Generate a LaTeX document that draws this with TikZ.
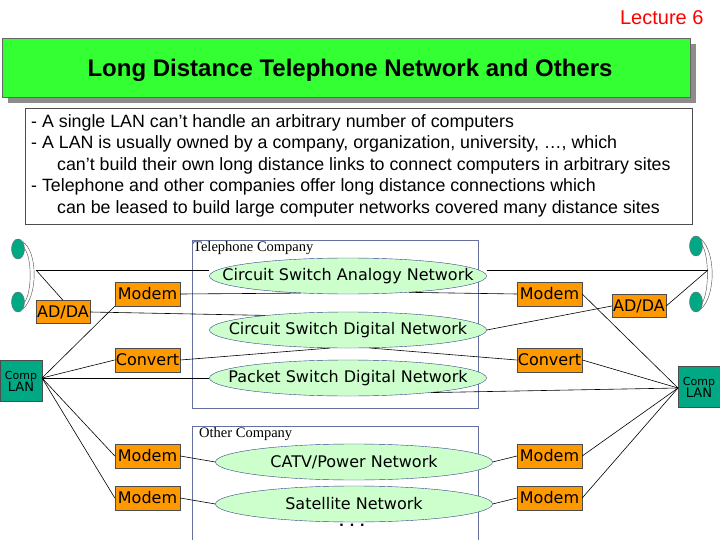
\documentclass[tikz,border=0pt]{standalone}
\usepackage{fontspec}
\setmainfont{Liberation Sans}
\newfontfamily\dv{DejaVu Sans}
\newfontfamily\srf{Liberation Serif}
\usetikzlibrary{shapes.geometric}
\definecolor{ttl}{HTML}{33FF33}
\definecolor{org}{HTML}{FF9900}
\definecolor{lanc}{HTML}{00A884}
\definecolor{elf}{HTML}{CCFFCC}
\definecolor{elb}{HTML}{334488}
\definecolor{cob}{HTML}{6670A0}
\newcommand{\zt}[1]{\makebox[0pt]{#1}}
\tikzset{
 obox/.style={draw=black!70,fill=org,inner sep=1pt,font=\dv\fontsize{16}{18}\selectfont,minimum height=24pt,minimum width=65pt},
 ell/.style={ellipse,draw=elb,fill=elf,inner sep=0pt,minimum width=277pt,minimum height=36pt,font=\dv\fontsize{16}{18}\selectfont},
 lan/.style={draw=black!70,fill=lanc,minimum width=42pt,minimum height=41pt,inner sep=0pt,align=center,font=\dv\fontsize{11}{13}\selectfont},
 phone/.style={ellipse,draw=black!60,fill=lanc,minimum width=13pt,minimum height=20pt,inner sep=0pt},
 ln/.style={draw=black,line width=0.6pt},
 comp/.style={draw=cob,line width=0.7pt},
}
\begin{document}
\begin{tikzpicture}[x=1pt,y=-1pt]
\useasboundingbox[fill=white] (0,0) rectangle (720,540);
\node[anchor=east,text=red,font=\fontsize{20}{22}\selectfont] (lec) at (707,18) {Lecture 6};
\fill[black!45] (8,44) rectangle (696,103);
\node[draw=black!60,fill=ttl,minimum width=688pt,minimum height=59pt,anchor=north west,inner sep=0pt] (tb) at (2,38) {};
\node[font=\bfseries\fontsize{24}{26}\selectfont] (tt) at (350,70) {Long Distance Telephone Network and Others};
\node[draw=black!70,minimum width=667pt,minimum height=116pt,anchor=north west,inner sep=0pt] (bb) at (25,108) {};
\node[anchor=north west,align=left,inner sep=0pt,font=\fontsize{17.8}{21.5}\selectfont] (bt) at (31,114) {- A single LAN can't handle an arbitrary number of computers\\
- A LAN is usually owned by a company, organization, university, \dots, which\\
\hspace*{26pt}can't build their own long distance links to connect computers in arbitrary sites\\
- Telephone and other companies offer long distance connections which\\
\hspace*{26pt}can be leased to build large computer networks covered many distance sites};
% company boxes
\draw[comp] (192,240) rectangle (478,408);
\node[anchor=west,font=\srf\fontsize{14.5}{16}\selectfont,inner sep=0pt] (tc) at (193,248) {Telephone Company};
\draw[comp] (192,541) -- (192,426) -- (478,426) -- (478,541);
\node[anchor=west,font=\srf\fontsize{14.5}{16}\selectfont,inner sep=0pt] (oc) at (199,434) {Other Company};
% ellipses
\node[ell] (e1) at (348,276) {\zt{Circuit Switch Analogy Network}};
\node[ell] (e2) at (348,330) {\zt{Circuit Switch Digital Network}};
\node[ell] (e3) at (348,378) {\zt{Packet Switch Digital Network}};
\node[ell] (e4) at (354,462) {\zt{CATV/Power Network}};
\node[ell] (e5) at (354,504) {\zt{Satellite Network}};
\node[font=\bfseries\fontsize{16}{16}\selectfont] (dots) at (352,525) {. . .};
% boxes
\node[obox] (lm1) at (147.5,294) {Modem};
\node[obox,minimum width=54pt,minimum height=23pt] (lad) at (63,312) {AD/DA};
\node[obox] (lc) at (147.5,360) {Convert};
\node[obox] (lm2) at (147.5,456) {Modem};
\node[obox] (lm3) at (147.5,498) {Modem};
\node[obox] (rm1) at (549.5,294) {Modem};
\node[obox,minimum width=54pt,minimum height=23pt] (rad) at (639,306) {AD/DA};
\node[obox] (rc) at (549.5,360) {Convert};
\node[obox] (rm2) at (549.5,456) {Modem};
\node[obox] (rm3) at (549.5,498) {Modem};
\node[lan] (llan) at (21,381) {Comp\\[-1pt]{\fontsize{13}{15}\selectfont LAN}};
\node[lan] (rlan) at (699,387) {Comp\\[-1pt]{\fontsize{13}{15}\selectfont LAN}};
% phones
\node[phone] (lp1) at (18,249) {};
\node[phone] (lp2) at (18,302) {};
\draw[black!70] (lp1.north east) .. controls (38,252) and (38,296) .. (lp2.south east);
\draw[black!70] (lp1.east) .. controls (32,258) and (32,292) .. (lp2.east);
\coordinate (lh) at (36,270);
\node[phone] (rp1) at (696,246) {};
\node[phone] (rp2) at (696,302) {};
\draw[black!70] (rp1.north east) .. controls (716,252) and (716,296) .. (rp2.south east);
\draw[black!70] (rp1.east) .. controls (709,258) and (709,290) .. (rp2.east);
\coordinate (rh) at (708,270);
% lines left
\coordinate (la) at (42,378);
\coordinate (ra) at (678,388);
\draw[ln] (lh) -- (e1.west |- lh);
\draw[ln] (lh) -- (lad.north);
\draw[ln] (lad.east) -- (e2.170);
\draw[ln] (lm1.east) -- (e1.200);
\draw[ln] (lc.east) -- (e2.225);
\draw[ln] (la) -- (lm1.south west);
\draw[ln] (la) -- (lc.west);
\draw[ln] (la) -- (e3.west);
\draw[ln] (la) -- (lm2.west);
\draw[ln] (la) -- (lm3.west);
\draw[ln] (lm2.east) -- (e4.west);
\draw[ln] (lm3.east) -- (e5.west);
% lines right
\draw[ln] (e1.east |- rh) -- (rh);
\draw[ln] (rh) -- (rad.east);
\draw[ln] (e1.-15) -- (rm1.west);
\draw[ln] (rad.west) -- (e2.east);
\draw[ln] (e2.-40) -- (rc.west);
\draw[ln] (rm1.east) -- (ra);
\draw[ln] (rc.east) -- (ra);
\draw[ln] (e3.-10) -- (ra);
\draw[ln] (rm2.east) -- (ra);
\draw[ln] (rm3.east) -- (ra);
\draw[ln] (e4.east) -- (rm2.west);
\draw[ln] (e5.east) -- (rm3.west);
\end{tikzpicture}
\end{document}
